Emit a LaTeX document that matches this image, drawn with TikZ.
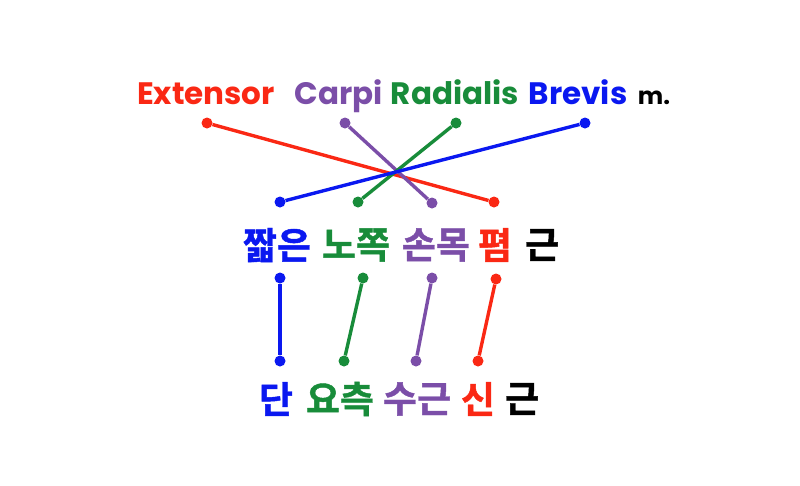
\documentclass[tikz,border=0pt]{standalone}
\usepackage{fontspec}
\setmainfont{Poppins}[BoldFont={* Bold}]
\newfontfamily\kr{Noto Sans CJK KR Bold}[FakeBold=1.2]
\definecolor{mred}{RGB}{250,40,20}
\definecolor{mpurple}{RGB}{123,78,168}
\definecolor{mgreen}{RGB}{24,140,58}
\definecolor{mblue}{RGB}{10,24,240}
\tikzset{
  enword/.style={anchor=base,inner sep=0pt,font=\fontsize{31}{31}\selectfont\bfseries},
  krword/.style={inner sep=0pt,font=\fontsize{37}{37}\selectfont\kr},
  dot/.style={circle,fill=#1,inner sep=0pt,minimum size=11pt},
  link/.style={line width=3.4pt,#1}
}
\begin{document}
\begin{tikzpicture}[x=1pt,y=-1pt]
                \useasboundingbox (0,0) rectangle (800,485);
                \node[enword,mred] (ext) at (206,104) {Extensor};
                \node[enword,mpurple] (car) at (339,104) {Carpi};
                \node[enword,mgreen] (rad) at (455,104) {Radialis};
                \node[enword,mblue] (bre) at (578,104) {Brevis};
                \node[enword,font=\fontsize{24}{24}\selectfont\bfseries] (mus) at (654,104) {m.};
                \node[dot=mred] (t1) at (207,123) {};
                \node[dot=mpurple] (t2) at (345,123) {};
                \node[dot=mgreen] (t3) at (456,123) {};
                \node[dot=mblue] (t4) at (585,123) {};
                \node[dot=mblue] (c1) at (280,202) {};
                \node[dot=mgreen] (c2) at (358,202) {};
                \node[dot=mpurple] (c3) at (432,203) {};
                \node[dot=mred] (c4) at (494,202) {};
                \draw[link=mred] (t1) -- (c4);
                \draw[link=mpurple] (t2) -- (c3);
                \draw[link=mgreen] (t3) -- (c2);
                \draw[link=mblue] (t4) -- (c1);
                \node[krword,mblue] (jj) at (277,245) {짧은};
                \node[krword,mgreen] (nj) at (356,245) {노쪽};
                \node[krword,mpurple] (sm) at (436,245) {손목};
                \node[krword,mred] (py) at (495,245) {폄};
                \node[krword] (gn) at (542,245) {근};
                \node[dot=mblue] (m1) at (280,278) {};
                \node[dot=mgreen] (m2) at (363,278) {};
                \node[dot=mpurple] (m3) at (432,278) {};
                \node[dot=mred] (m4) at (496,279) {};
                \node[dot=mblue] (b1) at (280,361) {};
                \node[dot=mgreen] (b2) at (344,361) {};
                \node[dot=mpurple] (b3) at (416,361) {};
                \node[dot=mred] (b4) at (478,361) {};
                \draw[link=mblue] (m1) -- (b1);
                \draw[link=mgreen] (m2) -- (b2);
                \draw[link=mpurple] (m3) -- (b3);
                \draw[link=mred] (m4) -- (b4);
                \node[krword,mblue] (dn) at (276,399) {단};
                \node[krword,mgreen] (yc) at (340,399) {요측};
                \node[krword,mpurple] (sg) at (417,399) {수근};
                \node[krword,mred] (sn) at (478,399) {신};
                \node[krword] (gn2) at (522,399) {근};
            \end{tikzpicture}
\end{document}
